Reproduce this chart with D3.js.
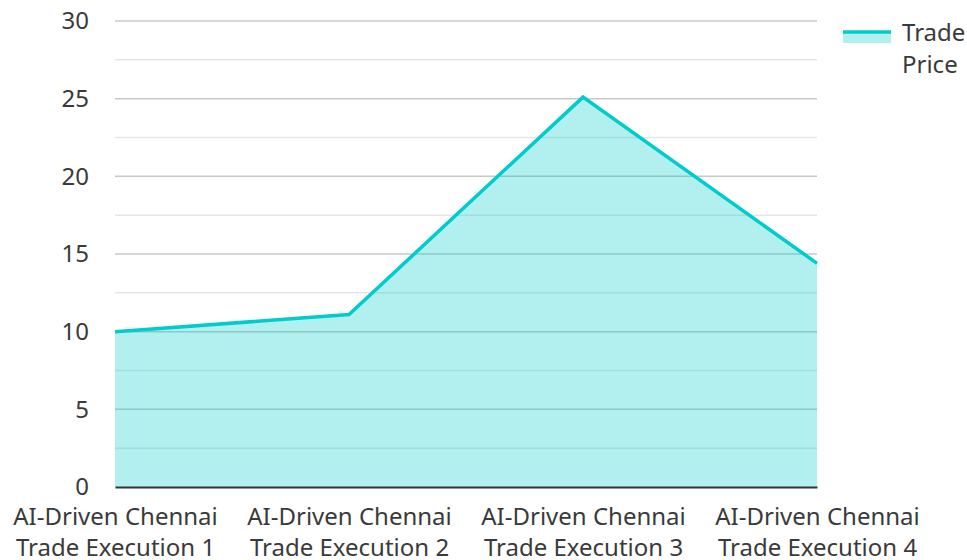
<!DOCTYPE html>
<html>
<head>
<meta charset="utf-8">
<script src="https://cdn.jsdelivr.net/npm/d3@7"></script>
<style>
  body { margin: 0; background: #fff; }
  text { font-family: "Noto Sans", "Open Sans", sans-serif; }
</style>
</head>
<body>
<svg id="chart" width="967" height="560"></svg>
<script>
// chart data
const categories = [
    "AI-Driven Chennai Trade Execution 1",
    "AI-Driven Chennai Trade Execution 2",
    "AI-Driven Chennai Trade Execution 3",
    "AI-Driven Chennai Trade Execution 4"
];
const tradePrice = [10, 11.1, 25.1, 14.4];
const yTicks = [0, 5, 10, 15, 20, 25, 30];
const yMinorTicks = [2.5, 7.5, 12.5, 17.5, 22.5, 27.5];
const seriesName = "Trade Price";

const svg = d3.select("#chart"),
    margin = { top: 21, right: 150, bottom: 73, left: 115 },
    width = +svg.attr("width") - margin.left - margin.right,
    height = +svg.attr("height") - margin.top - margin.bottom;

const g = svg.append("g")
    .attr("transform", "translate(" + margin.left + "," + margin.top + ")");

const xScale = d3.scalePoint()
    .domain(categories)
    .range([0, width])
    .padding(0);

const yScale = d3.scaleLinear()
    .domain([0, 30])
    .range([height, 0]);

// grid
g.selectAll(".minor")
    .data(yMinorTicks)
    .enter()
    .append("line")
    .attr("x1", 0).attr("x2", width)
    .attr("y1", d => yScale(d)).attr("y2", d => yScale(d))
    .attr("stroke", "#e6e6e6")
    .attr("stroke-width", 1.5);

g.selectAll(".major")
    .data(yTicks.filter(d => d > 0))
    .enter()
    .append("line")
    .attr("x1", 0).attr("x2", width)
    .attr("y1", d => yScale(d)).attr("y2", d => yScale(d))
    .attr("stroke", "#c8c8c8")
    .attr("stroke-width", 1.5);

const data = categories.map((c, i) => ({ cat: c, value: tradePrice[i] }));

const area = d3.area()
    .x(d => xScale(d.cat))
    .y0(yScale(0))
    .y1(d => yScale(d.value));

const line = d3.line()
    .x(d => xScale(d.cat))
    .y(d => yScale(d.value));

g.append("path")
    .datum(data)
    .attr("d", area)
    .attr("fill", "#00cccc")
    .attr("fill-opacity", 0.3);

g.append("path")
    .datum(data)
    .attr("d", line)
    .attr("fill", "none")
    .attr("stroke", "#00cccc")
    .attr("stroke-width", 3.5);

// y axis
const yAxis = g.append("g")
    .call(d3.axisLeft(yScale).tickValues(yTicks).tickSize(0).tickPadding(26));
yAxis.select(".domain").remove();
yAxis.selectAll("text")
    .attr("font-family", null)
    .style("font-size", "24px")
    .attr("fill", "#3a3a3a");

// x axis
const xAxis = g.append("g")
    .attr("transform", "translate(0," + height + ")")
    .call(d3.axisBottom(xScale).tickSize(0).tickFormat(""));
xAxis.attr("font-family", null);
xAxis.select(".domain")
    .attr("stroke", "#333")
    .attr("stroke-width", 2);

xAxis.selectAll(".tick")
    .append("text")
    .attr("fill", "#3a3a3a")
    .attr("text-anchor", "middle")
    .style("font-size", "24px")
    .selectAll("tspan")
    .data(d => {
        const parts = d.split(" ");
        return [parts.slice(0, 2).join(" "), parts.slice(2).join(" ")];
    })
    .enter()
    .append("tspan")
    .attr("x", 0)
    .attr("y", (d, i) => 38 + i * 31)
    .text(d => d);

// legend
const legend = svg.append("g")
    .attr("transform", "translate(843,29)");
legend.append("rect")
    .attr("x", 0).attr("y", 2)
    .attr("width", 48).attr("height", 12)
    .attr("fill", "#00cccc")
    .attr("fill-opacity", 0.3);
legend.append("line")
    .attr("x1", 0).attr("x2", 48)
    .attr("y1", 3).attr("y2", 3)
    .attr("stroke", "#00cccc")
    .attr("stroke-width", 3.5);
legend.append("text")
    .attr("fill", "#3a3a3a")
    .style("font-size", "24px")
    .selectAll("tspan")
    .data(seriesName.split(" "))
    .enter()
    .append("tspan")
    .attr("x", 59)
    .attr("y", (d, i) => 12 + i * 32)
    .text(d => d);
</script>
</body>
</html>
